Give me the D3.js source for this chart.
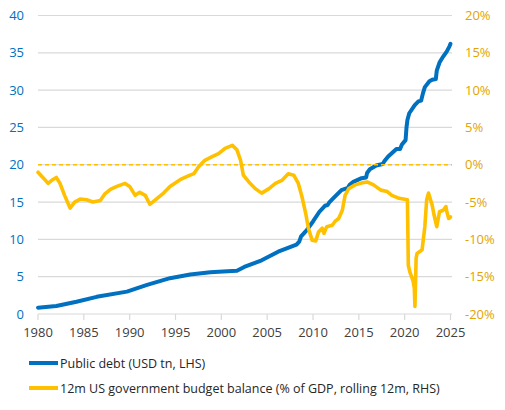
<!doctype html>
<html>
<head>
<meta charset="utf-8">
<title>US public debt and budget balance</title>
<script src="https://cdnjs.cloudflare.com/ajax/libs/d3/7.8.5/d3.min.js"></script>
<style>
body { margin:0; background:#fff; }
text { font-family: "Open Sans", "Liberation Sans", Arial, sans-serif; }
</style>
</head>
<body>
<div id="chartContainer"></div>

<script type="text/javascript">

// public debt, USD tn (LHS)
var debtYears = [1980, 1982, 1984.2, 1986.4, 1989.7, 1991.9, 1994.4, 1996.6, 1998.8, 2000.2,
	2001.7, 2002.5, 2004.4, 2006.2, 2008.2, 2008.5, 2008.7, 2009.3, 2010.0, 2010.7,
	2011.3, 2011.6, 2011.8, 2012.2, 2013.1, 2013.8, 2014.0, 2014.4, 2015.3, 2015.8,
	2015.9, 2016.2, 2016.9, 2017.6, 2017.8, 2018.2, 2019.1, 2019.5, 2019.7, 2020.1,
	2020.2, 2020.3, 2020.5, 2021.1, 2021.5, 2021.8, 2022.0, 2022.2, 2022.7, 2023.0,
	2023.4, 2023.5, 2023.8, 2024.2, 2024.6, 2024.9, 2025.0];
var debtValues = [0.85, 1.07, 1.65, 2.3, 3.0, 3.9, 4.8, 5.3, 5.6, 5.7,
	5.8, 6.3, 7.2, 8.35, 9.3, 9.7, 10.4, 11.2, 12.4, 13.7,
	14.5, 14.6, 15.0, 15.5, 16.6, 16.9, 17.3, 17.7, 18.2, 18.3,
	18.9, 19.4, 19.9, 20.1, 20.5, 21.1, 22.1, 22.1, 22.7, 23.3,
	25.0, 26.0, 26.9, 28.0, 28.5, 28.6, 29.6, 30.4, 31.2, 31.4,
	31.5, 32.6, 33.7, 34.5, 35.2, 35.9, 36.2];

// budget balance, % of GDP rolling 12m (RHS)
var balanceYears = [1980.0, 1980.6, 1981.1, 1981.6, 1982.0, 1982.4, 1982.9, 1983.5, 1984.0, 1984.6,
	1985.3, 1986.0, 1986.8, 1987.3, 1987.9, 1988.6, 1989.5, 1990.0, 1990.6, 1991.1,
	1991.7, 1992.2, 1992.8, 1993.7, 1994.4, 1995.5, 1996.4, 1997.0, 1997.5, 1998.2,
	1999.0, 1999.7, 2000.4, 2001.2, 2001.7, 2002.1, 2002.4, 2003.0, 2003.7, 2004.4,
	2005.2, 2005.9, 2006.6, 2007.3, 2007.9, 2008.4, 2008.8, 2009.2, 2009.5, 2009.9,
	2010.3, 2010.6, 2011.0, 2011.2, 2011.5, 2012.1, 2012.4, 2012.8, 2013.2, 2013.5,
	2013.9, 2014.6, 2015.4, 2015.9, 2016.6, 2017.4, 2018.1, 2018.6, 2019.4, 2020.3,
	2020.4, 2020.6, 2020.9, 2021.05, 2021.12, 2021.25, 2021.35, 2021.9, 2022.2, 2022.4,
	2022.6, 2023.0, 2023.2, 2023.5, 2023.8, 2024.2, 2024.5, 2024.6, 2024.8, 2025.0];
var balanceValues = [-1.0, -1.8, -2.5, -2.0, -1.7, -2.5, -4.1, -5.8, -5.0, -4.6,
	-4.7, -5.0, -4.8, -3.9, -3.3, -2.9, -2.5, -2.9, -4.1, -3.7,
	-4.1, -5.3, -4.7, -3.8, -2.9, -2.0, -1.5, -1.2, -0.3, 0.6,
	1.1, 1.5, 2.2, 2.6, 2.0, 0.6, -1.4, -2.3, -3.2, -3.8,
	-3.2, -2.5, -2.1, -1.2, -1.4, -2.5, -4.3, -6.5, -8.5, -10.1,
	-10.2, -9.0, -8.5, -9.2, -8.3, -8.1, -7.6, -7.2, -6.1, -4.1,
	-3.2, -2.7, -2.4, -2.3, -2.7, -3.4, -3.6, -4.1, -4.5, -4.7,
	-13.5, -14.5, -15.5, -16.5, -19.0, -12.5, -11.9, -11.4, -8.3, -4.7,
	-3.8, -5.4, -6.7, -8.3, -6.3, -6.1, -5.6, -6.3, -7.2, -7.0];

var leftTicks = [0, 5, 10, 15, 20, 25, 30, 35, 40];
var rightTicks = [-20, -15, -10, -5, 0, 5, 10, 15, 20];
var yearTicks = [1980, 1985, 1990, 1995, 2000, 2005, 2010, 2015, 2020, 2025];
var seriesNames = ["Public debt (USD tn, LHS)",
	"12m US government budget balance (% of GDP, rolling 12m, RHS)"];

var blue = "#0070c0", gold = "#ffc000";

function draw()
{
	var svg = d3.select("#chartContainer").append("svg")
		.attr("width", 505)
		.attr("height", 410);

	var x = d3.scaleLinear().domain([1980, 2025]).range([38, 450.5]);
	var yL = d3.scaleLinear().domain([0, 40]).range([314, 15.5]);
	var yR = d3.scaleLinear().domain([-20, 20]).range([314, 15.5]);

	// gridlines
	svg.append("g").selectAll("line")
		.data(leftTicks.filter(function(d) { return d > 0; }))
		.enter().append("line")
		.attr("x1", 38).attr("x2", 452)
		.attr("y1", function(d) { return yL(d); })
		.attr("y2", function(d) { return yL(d); })
		.attr("stroke", "#d9d9d9")
		.attr("stroke-width", 1.2);

	// x axis base + ticks
	svg.append("line")
		.attr("x1", 38).attr("x2", 452)
		.attr("y1", 314).attr("y2", 314)
		.attr("stroke", "#d9d9d9").attr("stroke-width", 1.2);
	svg.append("g").selectAll("line")
		.data(yearTicks)
		.enter().append("line")
		.attr("x1", function(d) { return x(d); })
		.attr("x2", function(d) { return x(d); })
		.attr("y1", 314).attr("y2", 320)
		.attr("stroke", "#d9d9d9").attr("stroke-width", 1.2);

	svg.append("g").selectAll("text")
		.data(yearTicks)
		.enter().append("text")
		.attr("x", function(d) { return x(d); })
		.attr("y", 337)
		.attr("text-anchor", "middle")
		.style("font-size", "13px")
		.attr("fill", "#404040")
		.text(function(d) { return d; });

	// left axis labels
	svg.append("g").selectAll("text")
		.data(leftTicks)
		.enter().append("text")
		.attr("x", 24)
		.attr("y", function(d) { return yL(d) + 4.5; })
		.attr("text-anchor", "end")
		.style("font-size", "13px")
		.attr("fill", blue)
		.text(function(d) { return d; });

	// right axis labels
	svg.append("g").selectAll("text")
		.data(rightTicks)
		.enter().append("text")
		.attr("x", 465)
		.attr("y", function(d) { return yR(d) + 4.5; })
		.style("font-size", "13px")
		.attr("fill", "#e3a400")
		.text(function(d) { return d + "%"; });

	var debtLine = d3.line()
		.x(function(d, i) { return x(debtYears[i]); })
		.y(function(d) { return yL(d); });
	var balLine = d3.line()
		.x(function(d, i) { return x(balanceYears[i]); })
		.y(function(d) { return yR(d); });

	svg.append("path")
		.attr("d", debtLine(debtValues))
		.attr("fill", "none")
		.attr("stroke", blue)
		.attr("stroke-width", 4)
		.attr("stroke-linejoin", "round")
		.attr("stroke-linecap", "round");

	svg.append("path")
		.attr("d", balLine(balanceValues))
		.attr("fill", "none")
		.attr("stroke", gold)
		.attr("stroke-width", 3.6)
		.attr("stroke-linejoin", "round")
		.attr("stroke-linecap", "round");

	// zero line of the RHS
	svg.append("line")
		.attr("x1", 38).attr("x2", 452)
		.attr("y1", yR(0)).attr("y2", yR(0))
		.attr("stroke", gold)
		.attr("stroke-width", 1.3)
		.attr("stroke-dasharray", "4,3");

	// legend
	var legend = svg.append("g").selectAll("g")
		.data(seriesNames)
		.enter().append("g")
		.attr("transform", function(d, i) { return "translate(29," + (363 + i * 25) + ")"; });
	legend.append("line")
		.attr("x1", 0).attr("x2", 29)
		.attr("stroke", function(d, i) { return i === 0 ? blue : gold; })
		.attr("stroke-width", 4);
	legend.append("text")
		.attr("x", 31)
		.attr("y", 4.5)
		.style("font-size", "12.5px")
		.attr("fill", "#262626")
		.text(function(d) { return d; });
}

draw();

</script>
</body>
</html>
